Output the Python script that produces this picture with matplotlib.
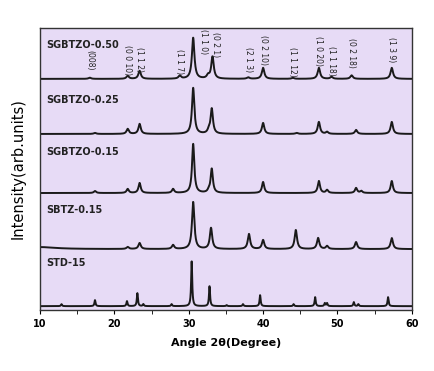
import numpy as np
import matplotlib.pyplot as plt

# peak positions (2theta), heights and widths, per sample
samples = ["SGBTZO-0.50", "SGBTZO-0.25", "SGBTZO-0.15", "SBTZ-0.15", "STD-15"]
offsets = [231, 176, 117, 61, 4]

pos_050 = [16.7, 21.8, 23.4, 28.8, 30.6, 32.6, 33.2, 38.0, 40.0, 44.0, 47.5, 49.2, 51.9, 57.3]
h_050 = [1.2, 3, 8, 3, 41, 3, 22, 1.5, 11, 1, 11, 2, 3.5, 11]

pos_025 = [17.4, 21.8, 23.4, 30.6, 32.7, 33.1, 40.0, 44.5, 47.5, 48.6, 52.5, 57.3]
h_025 = [1, 5, 10, 46, 3, 25, 11, 1, 12, 2, 4, 12]

pos_015 = [17.4, 21.8, 23.4, 27.9, 30.6, 32.7, 33.1, 40.0, 47.5, 48.6, 52.5, 53.2, 57.3]
h_015 = [2, 4, 10, 4, 49, 2, 24, 11, 12, 3, 5, 2, 12]

pos_sbtz = [10.0, 21.8, 23.4, 27.9, 30.6, 33.0, 38.1, 40.0, 44.4, 47.4, 48.6, 52.5, 57.3]
h_sbtz = [2.0, 2, 6, 4, 47, 21, 15, 9, 19, 11, 3, 7, 11]

pos_std = [12.9, 17.4, 21.7, 23.1, 23.9, 27.7, 30.4, 32.8, 35.1, 37.3, 39.6, 44.1, 47.0, 48.3, 48.6,
           52.2, 52.8, 56.8]
h_std = [2, 6, 5, 13, 2, 2, 45, 20, 1, 2, 11, 2, 9, 3, 3, 4, 2, 9]

hkl_labels = ["(008)", "(0 0 10)", "(1 1 2)", "(1 1 7)", "(1 1 0)", "(0 2 1)", "(2 1 3)",
              "(0 2 10)", "(1 1 12)", "(1 0 20)", "(1 1 18)", "(0 2 18)", "(1 3 9)"]
hkl_x = [16.7, 21.8, 23.4, 28.8, 32.0, 33.6, 38.1, 40.0, 44.0, 47.5, 49.2, 51.9, 57.3]
hkl_y = [250, 250, 250, 248, 268, 265, 250, 260, 248, 259, 249, 257, 260]


def pattern(x, pos, h, w):
    y = np.zeros_like(x)
    for c, a in zip(pos, h):
        ww = 2.5 if c <= 10.0 else w
        y += a / (1 + ((x - c) / ww) ** 2)
    return y


x = np.linspace(10, 60, 3000)
data = [(pos_050, h_050, 0.2), (pos_025, h_025, 0.19), (pos_015, h_015, 0.18),
        (pos_sbtz, h_sbtz, 0.19), (pos_std, h_std, 0.085)]

fig = plt.figure(figsize=(4.34, 3.71), dpi=100)
ax = fig.add_axes([0.092, 0.164, 0.857, 0.761])
ax.set_facecolor("#e7dbf6")

label_y = [265, 210, 158, 100, 47]
for name, off, (pos, h, w), ly in zip(samples, offsets, data, label_y):
    ax.plot(x, pattern(x, pos, h, w) + off, color="#1a1a1a", lw=1.4)
    ax.text(10.8, ly, name, fontsize=7, fontweight="bold", color="#222222", va="center")

for lab, hx, hy in zip(hkl_labels, hkl_x, hkl_y):
    ax.text(hx, hy, lab, fontsize=5.5, rotation=-90, ha="center", va="center", color="#222222")

ax.set_xlim(10, 60)
ax.set_ylim(0, 282)
ax.set_xticks(np.arange(10, 61, 10))
ax.set_xticks(np.arange(15, 60, 10), minor=True)
ax.set_yticks([])
ax.tick_params(axis="x", which="both", direction="out", length=3, labelsize=7)
for t in ax.get_xticklabels():
    t.set_fontweight("bold")
ax.set_xlabel("Angle 2θ(Degree)", fontsize=8, fontweight="bold", labelpad=6)
ax.set_ylabel("Intensity(arb.units)", fontsize=10.5, labelpad=10)
for s in ax.spines.values():
    s.set_linewidth(1.0)
    s.set_color("#333333")

fig.savefig("out.png", dpi=100)
